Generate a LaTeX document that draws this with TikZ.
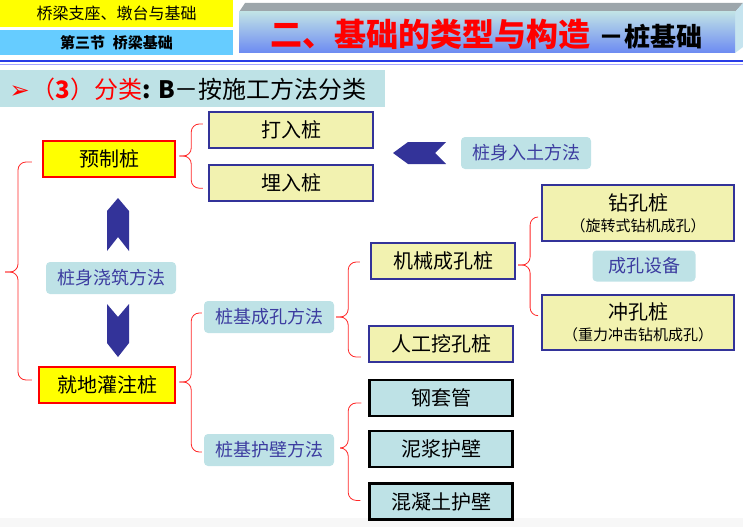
\documentclass[tikz,border=0pt]{standalone}
\usepackage{fontspec}
\setmainfont{Noto Sans CJK SC}
\newfontfamily\dingfont{DejaVu Sans}
\usepackage{xcolor}
\usepackage{tikz}
\usetikzlibrary{positioning, calc}
\definecolor{topyellow}{RGB}{255,255,0}
\definecolor{topblue}{RGB}{102,204,255}
\definecolor{barlight}{RGB}{192,226,230}
\definecolor{bardark}{RGB}{108,138,242}
\definecolor{navy}{RGB}{51,51,153}
\definecolor{paleyel}{RGB}{242,242,176}
\definecolor{paleblue}{RGB}{190,226,230}
\definecolor{methodtxt}{RGB}{60,60,160}
\definecolor{bracered}{RGB}{255,40,40}
\newcommand{\fs}[1]{\fontsize{#1}{#1}\selectfont}

\begin{document}
\begin{tikzpicture}[x=1pt, y=-1pt,
    pile/.style={rectangle, draw=red, line width=2.5pt, fill=topyellow,
                 minimum width=132pt, minimum height=36pt, inner sep=0pt, font=\fs{20}},
    kind/.style={rectangle, draw=navy, line width=2.2pt, fill=paleyel,
                 minimum width=164pt, minimum height=36pt, inner sep=0pt, font=\fs{20}},
    wall/.style={rectangle, draw=black, line width=2.2pt, fill=paleblue,
                 minimum width=143pt, minimum height=36pt, inner sep=0pt, font=\fs{20}},
    method/.style={rectangle, rounded corners=4pt, fill=paleblue, text=methodtxt,
                   minimum width=130pt, minimum height=32pt, inner sep=0pt, font=\fs{18}},
    brc/.style={draw=bracered, line width=0.8pt, rounded corners=8pt},
    chev/.style={fill=navy}
]
\useasboundingbox (0,0) rectangle (743,527);
\fill[gray!6] (0,518) rectangle (743,527);

% header
\node[rectangle, fill=topyellow, minimum width=233pt, minimum height=27pt, inner sep=0pt,
      font=\fs{16}] (course) at (116.5,13.5) {桥梁支座、墩台与基础};
\node[rectangle, fill=topblue, minimum width=233pt, minimum height=25pt, inner sep=0pt,
      font=\fs{15}\bfseries] (section) at (116.5,42.5) {第三节\hspace{8pt}桥梁基础};
\fill[gray!75!cyan!60!black!60] (239,12) -- (245,3) -- (743,3) -- (735,12) -- cycle;
\fill[gray!40!cyan!30] (735,12) -- (743,3) -- (743,47) -- (735,53) -- cycle;
\shade[top color=barlight, bottom color=bardark] (239,12) rectangle (735,53);
\node (title) at (486,34) {{\color{red}\fs{32}\bfseries 二、基础的类型与构造}\hspace{8pt}{\fs{26}\bfseries －桩基础}};
\draw[line width=2.5pt, color={rgb,255:red,40;green,60;blue,230}] (0,61) -- (743,61);
\draw[line width=0.8pt, blue!35] (0,64.5) -- (743,64.5);
\fill[paleblue] (0,70) rectangle (385,107);
\node[anchor=west, font=\fs{24}] (subtitle) at (6,89)
    {{\dingfont\color{red}\fs{24}➢}\hspace{2pt}{\color{red}（\textbf{3}）分类}\textbf{: B}－按施工方法分类};

% piles
\node[pile] (yuzhi) at (109,159) {预制桩};
\node[pile, minimum width=136pt] (jiudi) at (107,385) {就地灌注桩};
\node[kind] (daru) at (291,130) {打入桩};
\node[kind, below=15pt of daru] (mairu) {埋入桩};
\node[method] (jiaozhu) at (111,278) {桩身浇筑方法};
\node[method] (rutu) at (526,153) {桩身入土方法};
\node[method] (chengkong) at (269,317) {桩基成孔方法};
\node[method] (hubi) at (269,450) {桩基护壁方法};
\node[kind, minimum width=144pt] (jixie) at (443,261) {机械成孔桩};
\node[kind, minimum width=144pt] (rengong) at (441,344) {人工挖孔桩};
\node[wall] (gangtao) at (441,398) {钢套管};
\node[wall, below=13pt of gangtao] (nijiang) {泥浆护壁};
\node[wall, below=14pt of nijiang] (hunning) {混凝土护壁};
\node[kind, minimum width=192pt, minimum height=56pt, align=center] (zuankong) at (638,213)
    {钻孔桩\\[1pt]{\fs{15}（旋转式钻机成孔）}};
\node[kind, minimum width=192pt, minimum height=55pt, align=center, below=52pt of zuankong] (chongkong)
    {冲孔桩\\[1pt]{\fs{15}（重力冲击钻机成孔）}};
\node[method, minimum width=103pt, minimum height=31pt] (shebei) at (644,266) {成孔设备};

% chevrons
\fill[chev] (118,198) -- (129,211) -- (129,251) -- (118,237) -- (107,251) -- (107,211) -- cycle;
\fill[chev] (107,304) -- (118,317) -- (129,304) -- (129,343) -- (118,357) -- (107,343) -- cycle;
\fill[chev] (393,153) -- (408,142) -- (446,142) -- (435,153) -- (446,164) -- (408,164) -- cycle;

% braces
\coordinate (t0) at (5,272);
\draw[brc] (t0) -- ++(13,0) |- ($(yuzhi.west)+(-10,3)$);
\draw[brc] (t0) -- ++(13,0) |- ($(jiudi.west)+(-6,-5)$);
\coordinate (t1) at ($(yuzhi.east)+(3,-3)$);
\draw[brc] (t1) -- ++(12,0) |- ($(daru.west)+(-5,-6)$);
\draw[brc] (t1) -- ++(12,0) |- ($(mairu.west)+(-5,5)$);
\coordinate (t2) at ($(jiudi.east)+(3,-3)$);
\draw[brc] (t2) -- ++(12,0) |- ($(chengkong.west)+(-2,-4)$);
\draw[brc] (t2) -- ++(12,0) |- ($(hubi.west)+(-2,2)$);
\coordinate (t3) at ($(chengkong.east)+(2,0)$);
\draw[brc] (t3) -- ++(12,0) |- ($(jixie.west)+(-10,1)$);
\draw[brc] (t3) -- ++(12,0) |- ($(rengong.west)+(-7,13)$);
\coordinate (t4) at ($(hubi.east)+(6,-2)$);
\draw[brc] (t4) -- ++(8,0) |- ($(gangtao.west)+(-7,5)$);
\draw[brc] (t4) -- ++(8,0) |- ($(hunning.west)+(-8,-1)$);
\coordinate (t5) at ($(jixie.east)+(2,4)$);
\draw[brc] (t5) -- ++(12,0) |- ($(zuankong.west)+(-3,4)$);
\draw[brc] (t5) -- ++(12,0) |- ($(chongkong.west)+(-3,-7)$);
\end{tikzpicture}
\end{document}
